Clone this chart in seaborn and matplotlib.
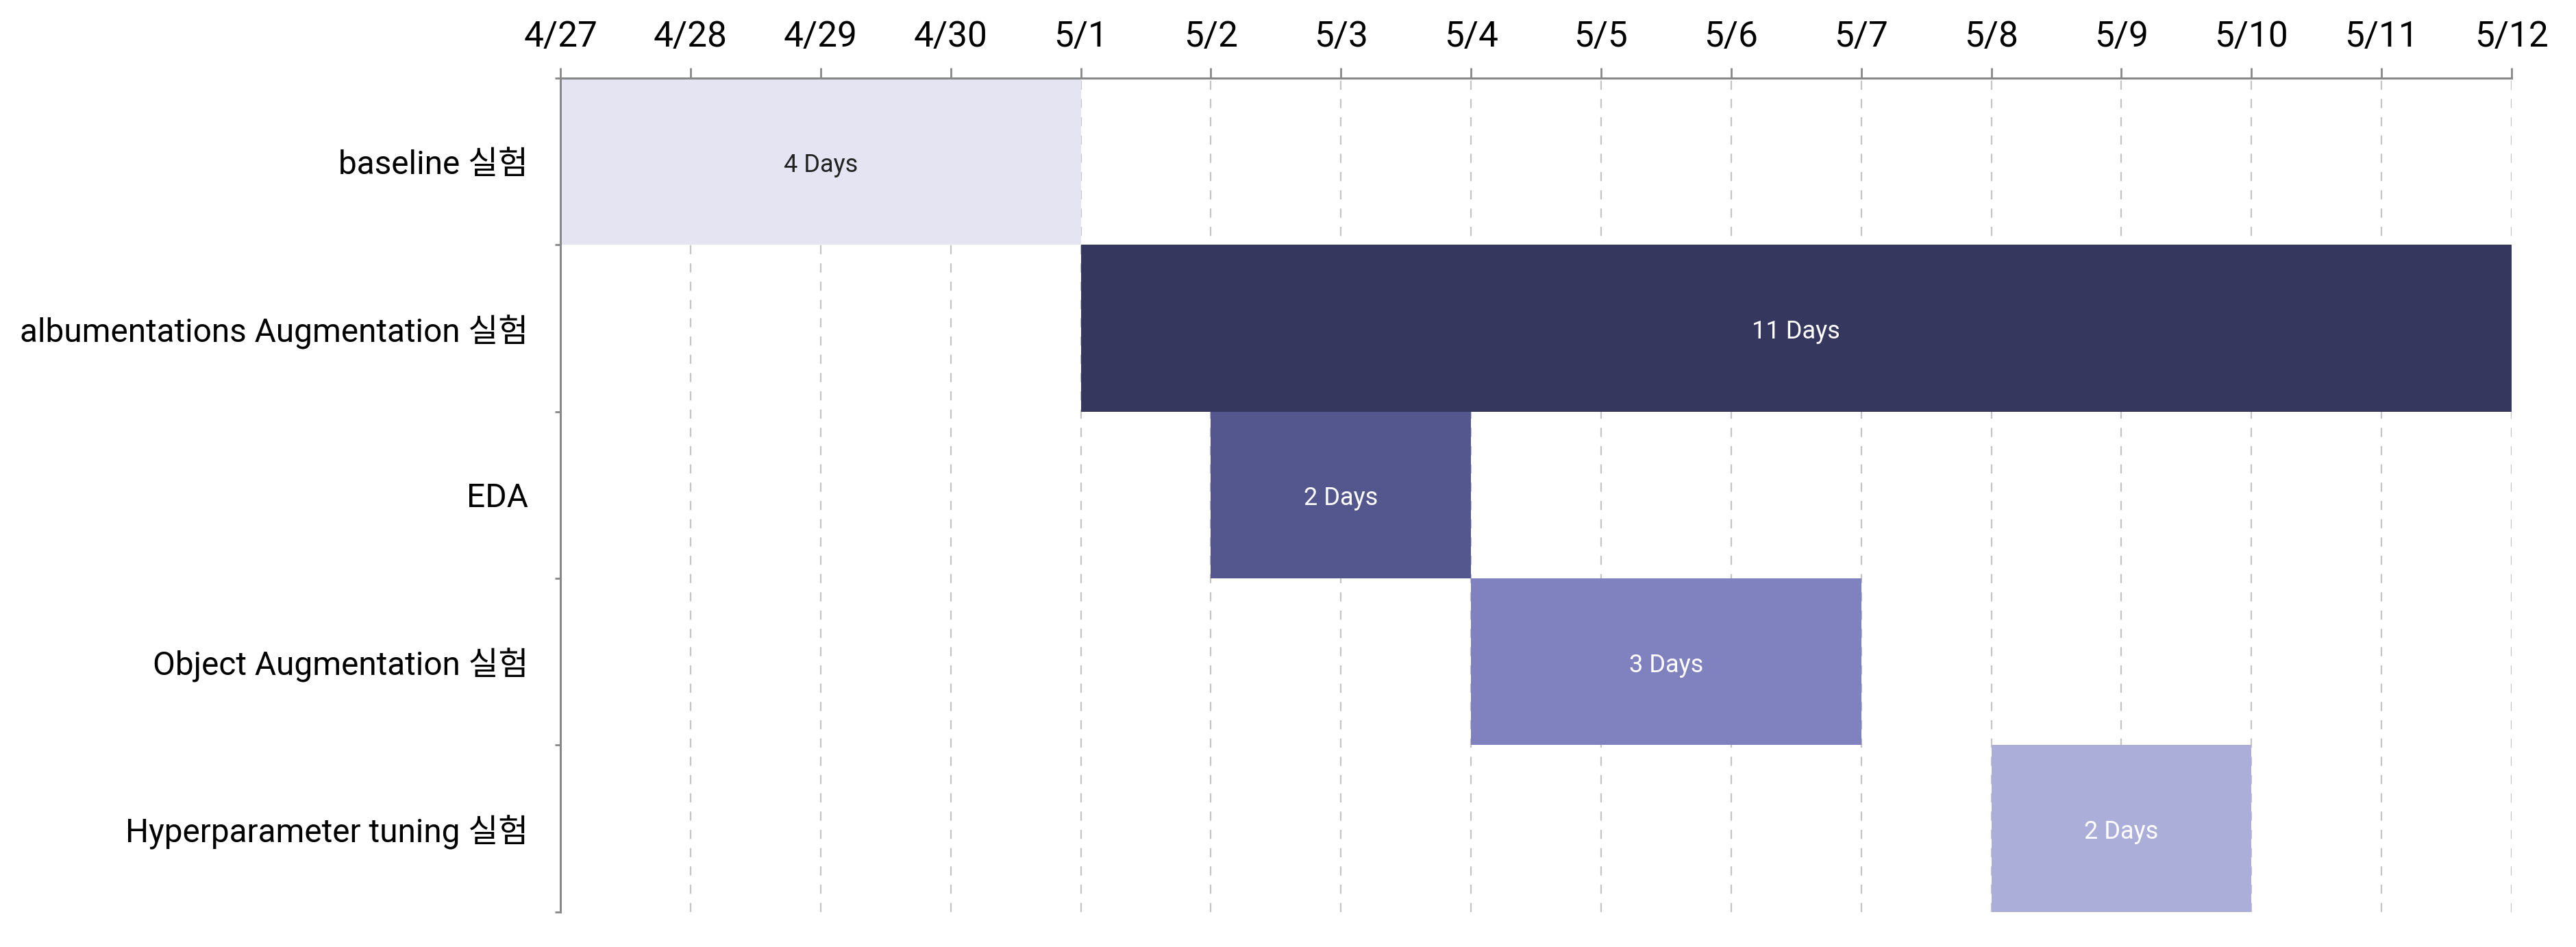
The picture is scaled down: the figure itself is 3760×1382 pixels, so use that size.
import matplotlib
matplotlib.use("Agg")
import matplotlib.pyplot as plt
import numpy as np
import pandas as pd
import seaborn as sns

tasks = [
    "baseline 실험",
    "albumentations Augmentation 실험",
    "EDA",
    "Object Augmentation 실험",
    "Hyperparameter tuning 실험",
]
start_dates = ["2022-04-27", "2022-05-01", "2022-05-02", "2022-05-04", "2022-05-08"]
durations = [4, 11, 2, 3, 2]
bar_colors = ["#e4e4f2", "#35375e", "#54578e", "#7f82bf", "#abaed9"]
text_colors = ["#222222", "white", "white", "white", "white"]
day_labels = ["4/27", "4/28", "4/29", "4/30", "5/1", "5/2", "5/3", "5/4",
              "5/5", "5/6", "5/7", "5/8", "5/9", "5/10", "5/11", "5/12"]

sns.set_theme(style="white")
plt.rcParams["font.family"] = ["Roboto", "Noto Sans CJK KR", "DejaVu Sans"]

origin = pd.Timestamp(start_dates[0])
df = pd.DataFrame({
    "task": tasks,
    "start": [(pd.Timestamp(d) - origin).days for d in start_dates],
    "days": durations,
})

fig, ax = plt.subplots(figsize=(18.8, 6.91), dpi=200)
fig.subplots_adjust(left=0.2176, right=0.975, top=0.9175, bottom=0.037)

# grid behind the bars
ax.set_axisbelow(True)
ax.xaxis.grid(True, color="#c4c4c4", linestyle=(0, (6, 6)), linewidth=0.8)

sns.barplot(data=df, x="days", y="task", left=df["start"], width=1.0,
            color=bar_colors[0], saturation=1, ax=ax, zorder=2)
for patch, c in zip(ax.patches, bar_colors):
    patch.set_facecolor(c)
    patch.set_edgecolor(c)
    patch.set_linewidth(0)

for i, row in df.iterrows():
    ax.text(row["start"] + row["days"] / 2, i + 0.02, f"{row['days']} Days",
            ha="center", va="center", fontsize=13, color=text_colors[i], zorder=3)

ax.set_xlim(0, len(day_labels) - 1)
ax.set_ylim(len(tasks) - 0.5, -0.5)
ax.set_xticks(np.arange(len(day_labels)))
ax.set_xticklabels(day_labels)
ax.xaxis.tick_top()
ax.tick_params(axis="x", which="major", top=True, bottom=False, length=5.5,
               width=1.0, color="#888888", pad=7, labelsize=18.5, labelcolor="black")

ax.set_yticks(np.arange(len(tasks)))
ax.set_yticks(np.arange(len(tasks) + 1) - 0.5, minor=True)
ax.tick_params(axis="y", which="major", left=True, length=0, pad=17,
               labelsize=17.2, labelcolor="black")
ax.tick_params(axis="y", which="minor", left=True, length=3, width=1.0,
               color="#888888")
ax.set_xlabel("")
ax.set_ylabel("")

for side in ["right", "bottom"]:
    ax.spines[side].set_visible(False)
for side in ["top", "left"]:
    ax.spines[side].set_color("#888888")
    ax.spines[side].set_linewidth(1.1)

fig.savefig("out.png", dpi=200)
